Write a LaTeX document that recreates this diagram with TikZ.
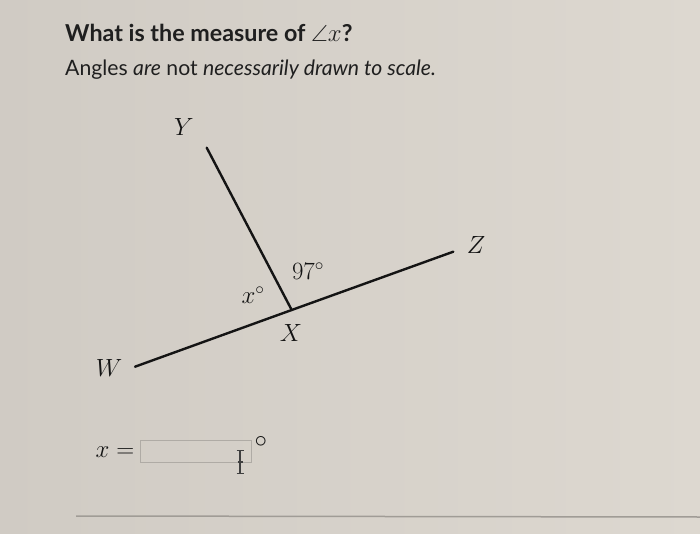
\documentclass[tikz,border=0pt]{standalone}
\usepackage{fontspec}
\setmainfont{Lato}
\usepackage{amssymb}
\begin{document}
\begin{tikzpicture}[x=1pt,y=-1pt,
  seg/.style={line width=2.4pt,black!92,line cap=round},
  lbl/.style={font=\fontsize{24}{26}\selectfont,text=black!92,inner sep=0pt},
  txt/.style={anchor=west,inner sep=0pt,text=black!88}]
\definecolor{bgL}{RGB}{208,203,196}
\definecolor{bgR}{RGB}{221,216,208}
\definecolor{boxc}{RGB}{175,171,165}
\definecolor{rulec}{RGB}{160,156,150}
\shade[left color=bgL,right color=bgR] (0,0) rectangle (700,534);
\useasboundingbox (0,0) rectangle (700,534);
% texts
\node[txt,font=\bfseries\fontsize{23.3}{26}\selectfont] (q) at (65,33) {What is the measure of $\angle x$?};
\node[txt,font=\fontsize{21.2}{25}\selectfont] (n) at (65,70) {Angles \textit{are} not \textit{necessarily drawn to scale.}};
% geometry
\coordinate (X) at (291.7,310);
\coordinate (Y) at (206.7,147.7);
\coordinate (Z) at (453.3,251.7);
\coordinate (W) at (135,366.7);
\draw[seg] (W) -- (X) -- (Z);
\draw[seg] (X) -- (Y);
\node[lbl] (ly) at (184,127) {$Y$};
\node[lbl] (lz) at (476,245) {$Z$};
\node[lbl] (lw) at (109,368) {$W$};
\node[lbl] (lx) at (291,333) {$X$};
\node[lbl] (a97) at (308,271) {$97^\circ$};
\node[lbl] (ax) at (253,295) {$x^\circ$};
% answer
\node[lbl] (eq) at (115,452) {$x=$};
\node[draw=boxc,line width=1pt,minimum width=111pt,minimum height=21.5pt,inner sep=0pt] (box) at (195.5,451.5) {};
\node[lbl,font=\fontsize{42}{42}\selectfont] (deg) at (261,446) {$^\circ$};
% cursor
\draw[line width=1.1pt,black!75] (240,451) -- (240,473)
  (236.5,450.5) -- (243.5,450.5) (236.5,473.5) -- (243.5,473.5)
  (237.5,462) -- (242.5,462);
% bottom rule
\draw[rulec,line width=1.5pt] (76,516) -- (700,517);
\end{tikzpicture}
\end{document}
